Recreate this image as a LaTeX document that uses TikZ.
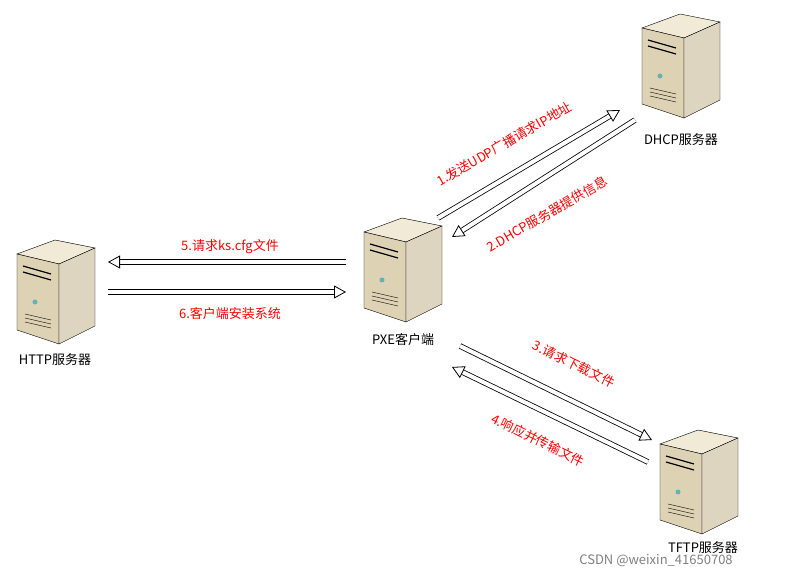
\documentclass[tikz,border=0pt]{standalone}
\usepackage{fontspec}
\setmainfont{Noto Sans CJK SC}
\usetikzlibrary{arrows.meta}
\definecolor{topc}{RGB}{240,234,215}
\definecolor{frontc}{RGB}{222,210,180}
\definecolor{sidec}{RGB}{200,185,150}
\tikzset{
  x=1pt,y=-1pt,
  flow/.style={draw=black,double=white,double distance=4pt,line width=0.8pt,
    -{Triangle[open,length=12pt,width=13pt,line width=0.8pt]}},
  lbl/.style={text=red,font=\fontsize{13}{15}\selectfont,inner sep=1pt},
  slbl/.style={font=\fontsize{13}{15}\selectfont},
  server/.pic={
    \draw[fill=topc] (0,14)--(38,0)--(78,8)--(42,24)--cycle;
    \draw[fill=frontc] (0,14)--(42,24)--(42,104)--(0,90)--cycle;
    \draw[fill=sidec!60!white] (42,24)--(78,8)--(78,86)--(42,104)--cycle;
    \draw[line width=1.2pt] (6,26)--(34,34) (6,32)--(34,40);
    \fill[teal!60] (18,62) circle (2.5);
    \draw (8,74)--(34,80) (8,78)--(34,84) (8,82)--(34,88);
  }
}
\begin{document}
\begin{tikzpicture}
\useasboundingbox (0,0) rectangle (796,580);
\pic at (364,218) {server};
\pic at (642,14) {server};
\pic at (17,240) {server};
\pic at (660,430) {server};
\node[slbl] (pxe) at (403,340) {PXE客户端};
\node[slbl] (dhcp) at (681,140) {DHCP服务器};
\node[slbl] (http) at (55,360) {HTTP服务器};
\node[slbl] (tftp) at (703,548) {TFTP服务器};
\node[text=gray,font=\fontsize{13}{15}\selectfont] (wm) at (656,561) {CSDN @weixin\_41650708};
\coordinate (a1s) at (438,218); \coordinate (a1e) at (620,110);
\coordinate (a2s) at (635,120); \coordinate (a2e) at (452,237);
\coordinate (a3s) at (460,346); \coordinate (a3e) at (652,440);
\coordinate (a4s) at (648,462); \coordinate (a4e) at (452,367);
\coordinate (a5s) at (346,262); \coordinate (a5e) at (108,262);
\coordinate (a6s) at (108,292); \coordinate (a6e) at (346,292);
\foreach \i in {1,...,6} \draw[flow] (a\i s) -- (a\i e);
\node[lbl,rotate=30] (l1) at (504,144) {1.发送UDP广播请求IP地址};
\node[lbl,rotate=30] (l2) at (547,214) {2.DHCP服务器提供信息};
\node[lbl,rotate=-26] (l3) at (574,364) {3.请求下载文件};
\node[lbl,rotate=-26] (l4) at (538,440) {4.响应并传输文件};
\node[lbl] (l5) at (230,247) {5.请求ks.cfg文件};
\node[lbl] (l6) at (230,314) {6.客户端安装系统};
\end{tikzpicture}
\end{document}
